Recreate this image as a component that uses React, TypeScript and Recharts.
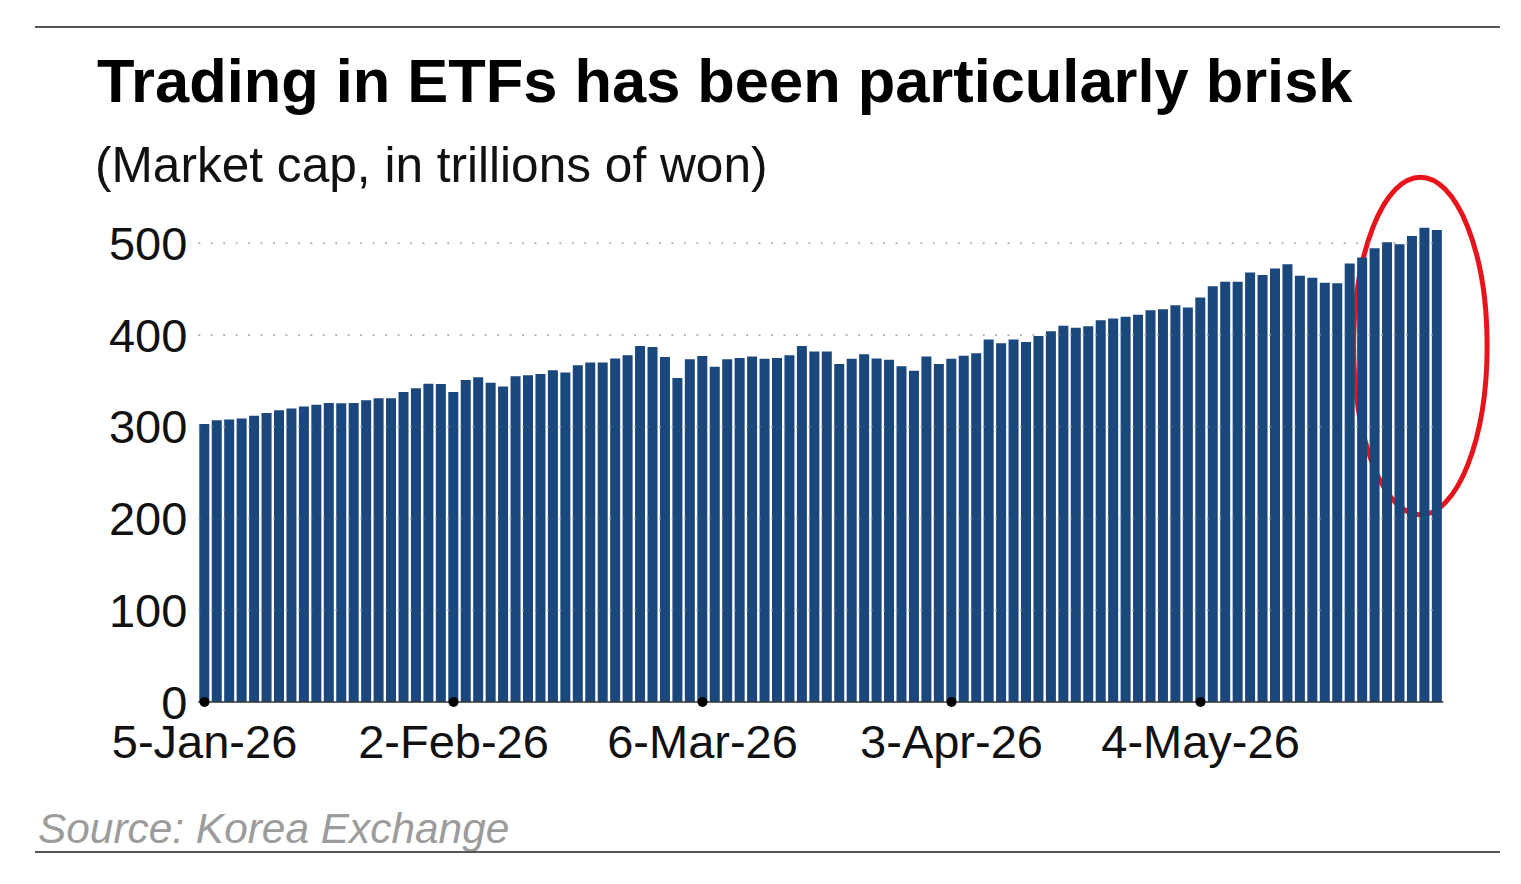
import React from "react";
import {
  BarChart,
  Bar,
  XAxis,
  YAxis,
  ReferenceLine,
  ReferenceArea,
  ReferenceDot,
} from "recharts";

// ETF market cap, trillions of won, one bar per trading day from 5-Jan-26
const marketCap = [
  303, 307, 308, 309, 312, 315, 318, 320, 322, 324,
  326, 325.5, 326, 329, 331, 331, 338, 342, 347, 346.5,
  338, 351, 354, 348, 344, 355, 356, 357.5, 361.5, 359,
  367, 370, 370, 374.5, 378, 388, 387, 376, 353, 373.5,
  377, 365.5, 373.5, 375, 376.5, 374, 375, 378, 388, 382,
  382, 368.5, 374, 379, 374.5, 373, 366, 361, 376.5, 368.5,
  374, 377.5, 380, 395, 391, 395, 392.5, 399, 404, 410,
  408, 409.5, 416, 418, 420, 422, 427, 428, 432.5, 430,
  441, 453, 458, 458, 468, 465.5, 472.5, 477, 464.5, 462.5,
  457, 456.5, 478, 484.5, 494.5, 501, 499, 508, 517, 514.5,
];

// a labelled tick every 20 trading days
const tickLabels = ["5-Jan-26", "2-Feb-26", "6-Mar-26", "3-Apr-26", "4-May-26"];
const tickStep = 20;
const tickDays = tickLabels.map((_, i) => i * tickStep);
const yTicks = [0, 100, 200, 300, 400, 500];

const data = marketCap.map((value, day) => ({ day, value }));

const FONT = "'Liberation Sans', Arial, Helvetica, sans-serif";
const BAR_COLOR = "#1a477c";

function Ellipse({ x, y, width, height }: any) {
  return (
    <ellipse
      cx={x + width * 0.77}
      cy={y + height / 2}
      rx={width * 0.67}
      ry={height / 2}
      fill="none"
      stroke="#e8141b"
      strokeWidth={5}
    />
  );
}

export default function App() {
  return (
    <div
      style={{
        position: "relative",
        width: 1505,
        height: 868,
        fontFamily: FONT,
        background: "#fff",
      }}
    >
      <div
        style={{
          position: "absolute",
          left: 27,
          top: 18,
          width: 1465,
          borderTop: "2px solid #555",
        }}
      />
      <div
        style={{
          position: "absolute",
          left: 89,
          top: 42,
          fontSize: 61.4,
          lineHeight: "61px",
          fontWeight: 700,
          color: "#000",
          whiteSpace: "nowrap",
        }}
      >
        Trading in ETFs has been particularly brisk
      </div>
      <div
        style={{
          position: "absolute",
          left: 87,
          top: 133,
          fontSize: 49.6,
          lineHeight: "49px",
          color: "#111",
          whiteSpace: "nowrap",
        }}
      >
        (Market cap, in trillions of won)
      </div>

      <div style={{ position: "absolute", left: 0, top: 0 }}>
        <BarChart
          width={1505}
          height={790}
          data={data}
          barCategoryGap={1}
          margin={{ top: 143.5, right: 69.7, bottom: 26, left: 90.3 }}
        >
          <YAxis
            width={100}
            domain={[0, 600]}
            ticks={yTicks}
            axisLine={false}
            tickLine={false}
            tickMargin={5}
            tick={{ fontSize: 47, fill: "#111", fontFamily: FONT }}
          />
          <XAxis
            dataKey="day"
            height={70}
            interval={tickStep - 1}
            axisLine={{ stroke: "#333", strokeWidth: 1.5 }}
            tickLine={false}
            tickMargin={17}
            tickFormatter={(v) => tickLabels[v / tickStep]}
            tick={{ fontSize: 47, fill: "#111", fontFamily: FONT }}
          />
          <Bar dataKey="value" fill={BAR_COLOR} isAnimationActive={false} />
          {yTicks.slice(1).map((v) => (
            <ReferenceLine
              key={v}
              y={v}
              stroke="#999"
              strokeWidth={2}
              strokeOpacity={0.7}
              strokeDasharray="2 10.45"
            />
          ))}
          {tickDays.map((d) => (
            <ReferenceDot
              key={d}
              x={d}
              y={0}
              r={5}
              fill="#000"
              stroke="none"
              ifOverflow="visible"
            />
          ))}
          <ReferenceArea
            x1={92}
            x2={99}
            y1={204}
            y2={572}
            ifOverflow="visible"
            shape={<Ellipse />}
          />
        </BarChart>
      </div>

      <div
        style={{
          position: "absolute",
          left: 30,
          top: 800,
          fontSize: 42.4,
          lineHeight: "42px",
          fontStyle: "italic",
          color: "#9c9c9c",
          whiteSpace: "nowrap",
        }}
      >
        Source: Korea Exchange
      </div>
      <div
        style={{
          position: "absolute",
          left: 27,
          top: 843,
          width: 1465,
          borderTop: "2px solid #555",
        }}
      />
    </div>
  );
}
